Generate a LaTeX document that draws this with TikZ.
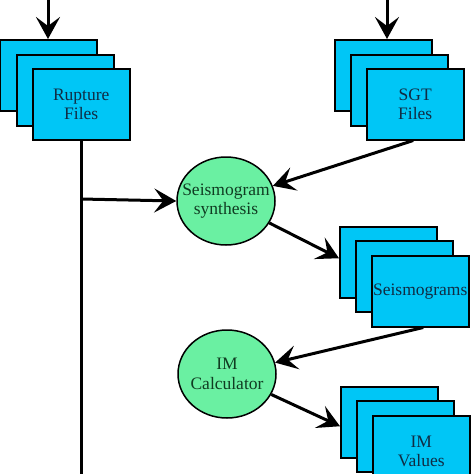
\documentclass[tikz,border=0pt]{standalone}
\usepackage{fontspec}
\setmainfont{Liberation Serif}
\usetikzlibrary{arrows.meta,shapes.geometric}
\definecolor{boxblue}{HTML}{00C6F6}
\definecolor{ellgreen}{HTML}{6AF0A2}
\definecolor{boxtext}{HTML}{102C44}
\definecolor{elltext}{HTML}{103C22}
\tikzset{
  filebox/.style={draw=black, line width=1.5pt, fill=boxblue, minimum width=97pt, minimum height=71pt,
    inner sep=0pt, anchor=north west, align=center, text=boxtext,
    font=\rmfamily\fontsize{17.5}{19.5}\selectfont},
  procnode/.style={ellipse, draw=black, line width=1.5pt, fill=ellgreen, minimum width=98pt, minimum height=88pt,
    inner xsep=-12pt, inner ysep=0pt, align=center, text=elltext, font=\rmfamily\fontsize{17.5}{19.5}\selectfont},
  flow/.style={line width=3pt, -{Stealth[length=22pt,width=24pt,inset=9pt]}},
  plainline/.style={line width=3pt}
}
\begin{document}
\begin{tikzpicture}[x=1pt,y=-1pt]
\useasboundingbox (0,0) rectangle (474,474);
\clip (0,0) rectangle (474,474);
\fill[white] (0,0) rectangle (474,474);
% Rupture files stack
\node[filebox] (ru1) at (-1,39) {};
\node[filebox] (ru2) at (16,54) {};
\node[filebox] (ru3) at (32,68) {Rupture\\Files};
% SGT files stack
\node[filebox] (sg1) at (334,39) {};
\node[filebox] (sg2) at (350,54) {};
\node[filebox] (sg3) at (366,68) {SGT\\Files};
% Seismograms stack
\node[filebox] (sm1) at (339,226) {};
\node[filebox] (sm2) at (355,240) {};
\node[filebox] (sm3) at (371,255) {Seismograms};
% IM values stack
\node[filebox] (iv1) at (340,386) {};
\node[filebox] (iv2) at (356,400) {};
\node[filebox] (iv3) at (372,415) {IM\\Values};
% processes
\node[procnode] (syn) at (226,201) {Seismogram\\synthesis};
\node[procnode] (imc) at (227,374) {IM\\Calculator};
% coordinates
\coordinate (rtop) at (48,-5);
\coordinate (stop) at (387,-5);
\coordinate (rbot) at (81,480);
\coordinate (rout) at (81,139);
\coordinate (br) at (81,199);
% connectors
\draw[flow] (rtop) -- (rtop |- ru1.north);
\draw[flow] (stop) -- (stop |- sg1.north);
\draw[plainline] (rout) -- (rbot);
\draw[flow] (br) -- (syn.west);
\draw[flow] ([xshift=-2pt]sg3.south) -- (syn);
\draw[flow] (syn) -- ([yshift=4pt]sm1.west);
\draw[flow] ([xshift=3pt]sm3.south) -- (imc);
\draw[flow] (imc) -- ([yshift=-4pt]iv1.west);
\end{tikzpicture}
\end{document}
